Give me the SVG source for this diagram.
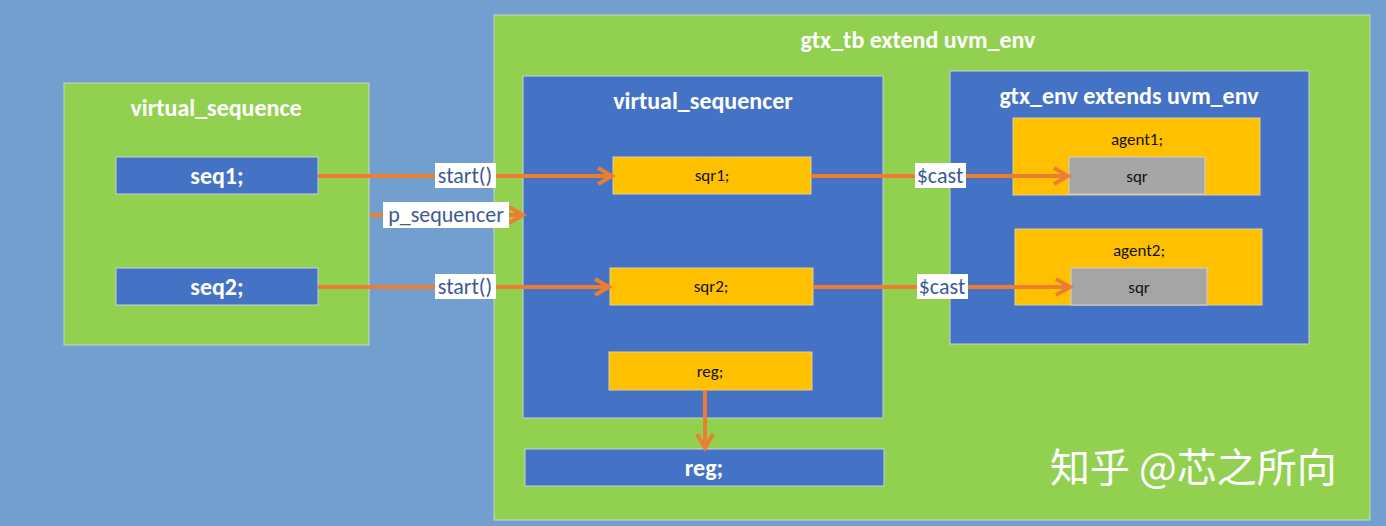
<svg xmlns="http://www.w3.org/2000/svg" width="1386" height="526" viewBox="0 0 1386 526">
<defs>
<style>
.g{fill:#92D050;stroke:#c8d8c0;stroke-width:1}
.b{fill:#4472C4;stroke:#c8d0e0;stroke-width:1}
.o{fill:#FFC000;stroke:#e0d0a0;stroke-width:1}
.s{fill:#A5A5A5;stroke:#d0d0d0;stroke-width:1}
.tw{font-family:Calibri,"Liberation Sans",sans-serif;font-weight:bold;fill:#fff;font-size:24px;text-anchor:middle}
.tk{font-family:Calibri,"Liberation Sans",sans-serif;fill:#111;font-size:17px;text-anchor:middle}
.lb{font-family:Calibri,"Liberation Sans",sans-serif;fill:#3d5a96;font-size:22px;text-anchor:middle}
.c{stroke:#ED7D31;stroke-width:4;fill:none}
</style>
<marker id="ah" viewBox="0 0 10 10" refX="8" refY="5" markerWidth="5" markerHeight="6" orient="auto" markerUnits="strokeWidth"><path d="M1,1 L8,5 L1,9" fill="none" stroke="#ED7D31" stroke-width="2"/></marker>
</defs>
<rect width="1386" height="526" fill="#729FCF"/>
<g id="virtual_sequence"><rect class="g" x="64" y="83" width="305" height="262"/><text class="tw" x="216" y="116">virtual_sequence</text></g>
<g id="seq1"><rect class="b" x="116" y="157" width="202" height="37"/><text class="tw" x="217" y="184">seq1;</text></g>
<g id="seq2"><rect class="b" x="116" y="268" width="202" height="37"/><text class="tw" x="217" y="295">seq2;</text></g>
<g id="gtx_tb"><rect class="g" x="494" y="15" width="876" height="505"/><text class="tw" x="918" y="48">gtx_tb extend uvm_env</text></g>
<g id="virtual_sequencer"><rect class="b" x="523" y="76" width="360" height="342"/><text class="tw" x="703" y="109">virtual_sequencer</text></g>
<g id="sqr1"><rect class="o" x="613" y="157" width="198" height="37"/><text class="tk" x="712" y="181">sqr1;</text></g>
<g id="sqr2"><rect class="o" x="610" y="268" width="203" height="37"/><text class="tk" x="711" y="292">sqr2;</text></g>
<g id="reg1"><rect class="o" x="609" y="352" width="203" height="38"/><text class="tk" x="710" y="377">reg;</text></g>
<g id="reg2"><rect class="b" x="525" y="449" width="359" height="37"/><text class="tw" x="704" y="476">reg;</text></g>
<g id="gtx_env"><rect class="b" x="950" y="71" width="359" height="273"/><text class="tw" x="1129" y="104">gtx_env extends uvm_env</text></g>
<g id="agent1"><rect class="o" x="1013" y="118" width="247" height="77"/><text class="tk" x="1137" y="145">agent1;</text><rect class="s" x="1069" y="157" width="136" height="37"/><text class="tk" x="1137" y="182">sqr</text></g>
<g id="agent2"><rect class="o" x="1015" y="229" width="247" height="76"/><text class="tk" x="1139" y="256">agent2;</text><rect class="s" x="1071" y="268" width="136" height="37"/><text class="tk" x="1139" y="293">sqr</text></g>
<g id="connectors">
<line class="c" x1="318" y1="176" x2="612" y2="176" marker-end="url(#ah)"/>
<line class="c" x1="318" y1="287" x2="609" y2="287" marker-end="url(#ah)"/>
<line class="c" x1="370" y1="215" x2="523" y2="215" marker-end="url(#ah)"/>
<line class="c" x1="811" y1="176" x2="1068" y2="176" marker-end="url(#ah)"/>
<line class="c" x1="813" y1="287" x2="1070" y2="287" marker-end="url(#ah)"/>
<line class="c" x1="705" y1="390" x2="705" y2="448" marker-end="url(#ah)"/>
<rect x="435" y="163" width="61" height="25" fill="#fff"/><text class="lb" x="465" y="183">start()</text>
<rect x="435" y="274" width="61" height="25" fill="#fff"/><text class="lb" x="465" y="294">start()</text>
<rect x="383" y="202" width="126" height="26" fill="#fff"/><text class="lb" x="446" y="222">p_sequencer</text>
<rect x="915" y="163" width="51" height="25" fill="#fff"/><text class="lb" x="940" y="183">$cast</text>
<rect x="917" y="274" width="51" height="25" fill="#fff"/><text class="lb" x="942" y="294">$cast</text>
</g>
<text x="1050" y="482" font-family="'Noto Sans CJK SC',sans-serif" font-size="40" fill="#fff">知乎 @芯之所向</text>
</svg>
